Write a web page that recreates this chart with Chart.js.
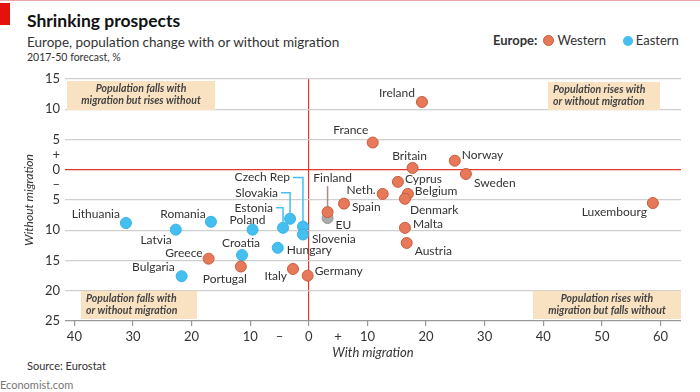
<!DOCTYPE html>
<html>
<head>
<meta charset="utf-8">
<script src="https://cdn.jsdelivr.net/npm/chart.js@4/dist/chart.umd.min.js"></script>
<style>
  body { margin: 0; width: 700px; height: 392px; position: relative; overflow: hidden; background: #fff; font-family: Lato, sans-serif; color: #222; }
  .abs { position: absolute; white-space: nowrap; }
  #topline { left: 0; top: 0; width: 700px; height: 1px; background: #e6aaaa; }
  #tag { left: 0; top: 3px; width: 10px; height: 22px; background: #e3120b; }
  #title { left: 27px; top: 10px; font-size: 17.5px; font-weight: bold; color: #111; }
  #sub { left: 27px; top: 34px; font-size: 13.5px; color: #333; }
  #sub2 { left: 27px; top: 51px; font-size: 10.5px; color: #333; }
  #legend { left: 493px; top: 32px; font-size: 13px; color: #333; }
  #legend b { margin-right: 6px; }
  .dot { display: inline-block; width: 10px; height: 10px; border-radius: 50%; vertical-align: -1px; margin-right: 3px; }
  #source { left: 27px; top: 359px; font-size: 11px; color: #333; }
  #brand { left: 0; top: 378px; font-size: 11px; color: #777; }
  canvas { position: absolute; left: 0; top: 0; }
</style>
</head>
<body>
<div class="abs" id="topline"></div>
<div class="abs" id="tag"></div>
<div class="abs" id="title">Shrinking prospects</div>
<div class="abs" id="sub">Europe, population change with or without migration</div>
<div class="abs" id="sub2">2017-50 forecast, %</div>
<div class="abs" id="legend"><b>Europe:</b><span class="dot" style="background:#e8785a;border:1px solid #c65d3e;width:9px;height:9px"></span>Western&nbsp;&nbsp;&nbsp;&nbsp;&nbsp;<span class="dot" style="background:#45bff0"></span>Eastern</div>
<div class="abs" id="source">Source: Eurostat</div>
<div class="abs" id="brand">Economist.com</div>
<canvas id="chart" width="700" height="392"></canvas>
<script>
// with migration (x) and without migration (y), % change 2017-50
const westernNames = ['Ireland', 'France', 'Britain', 'Norway', 'Sweden', 'Cyprus', 'Neth.', 'Belgium', 'Denmark', 'Spain', 'Finland', 'Malta', 'Austria', 'Italy', 'Germany', 'Luxembourg', 'Greece', 'Portugal'];
const westernWith = [19.3, 10.9, 17.7, 24.9, 26.8, 15.2, 12.6, 16.9, 16.4, 6.0, 3.2, 16.4, 16.7, -2.7, -0.2, 58.7, -17.1, -11.6];
const westernWithout = [11.2, 4.5, 0.3, 1.5, -0.7, -2.0, -4.0, -4.0, -4.8, -5.6, -7.0, -9.6, -12.1, -16.4, -17.5, -5.5, -14.7, -16.0];

const easternNames = ['Lithuania', 'Romania', 'Latvia', 'Poland', 'Estonia', 'Slovakia', 'Czech Rep', 'Slovenia', 'Hungary', 'Croatia', 'Bulgaria'];
const easternWith = [-31.2, -16.7, -22.7, -9.6, -4.4, -3.2, -1.0, -1.0, -5.3, -11.4, -21.7];
const easternWithout = [-8.8, -8.6, -9.9, -9.9, -9.6, -8.1, -9.4, -10.7, -12.9, -14.1, -17.6];

const euNames = ['EU'];
const euWith = [3.2];
const euWithout = [-8.0];

const xTicks = [-40, -30, -20, -10, -5, 0, 5, 10, 20, 30, 40, 50, 60];
const xTickLabels = ['40', '30', '20', '10', '–', '0', '+', '10', '20', '30', '40', '50', '60'];
const yTicks = [15, 10, 5, 2.5, 0, -2.5, -5, -10, -15, -20, -25];
const yTickLabels = ['15', '10', '5', '+', '0', '–', '5', '10', '15', '20', '25'];

// label placement: [dx, dy, align] from the dot centre
const labelPos = {
  'Ireland': [-7, -9, 'right'], 'France': [-22, -12, 'center'], 'Britain': [-3, -12, 'center'],
  'Norway': [7, -6, 'left'], 'Sweden': [8, 9, 'left'], 'Cyprus': [7, -3, 'left'],
  'Neth.': [-7, -4, 'right'], 'Belgium': [7, -3, 'left'], 'Denmark': [5, 11, 'left'],
  'Spain': [8, 3, 'left'], 'Finland': [5, -34, 'center'], 'Malta': [8, -4, 'left'],
  'Austria': [8, 8, 'left'], 'Italy': [-6, 7, 'right'], 'Germany': [7, -5, 'left'],
  'Luxembourg': [-6, 9, 'right'], 'Greece': [-6, -6, 'right'], 'Portugal': [-16, 13, 'center'],
  'Lithuania': [-6, -9, 'right'], 'Romania': [-28, -8, 'center'], 'Latvia': [-4, 10, 'right'],
  'Poland': [-5, -10, 'center'], 'Estonia': [-10, -20, 'right'], 'Slovakia': [-12, -26, 'right'],
  'Czech Rep': [-13, -49, 'right'], 'Slovenia': [9, 5, 'left'], 'Hungary': [9, 2, 'left'],
  'Croatia': [-1, -12, 'center'], 'Bulgaria': [-7, -9, 'right'], 'EU': [8, 7, 'left']
};
const elbowLeaders = ['Estonia', 'Slovakia', 'Czech Rep'];

const ORANGE = '#e8785a', ORANGE_EDGE = '#c65d3e', BLUE = '#45bff0', BLUE_EDGE = '#35b2e6', RED = '#e3382b';

const toPoints = (xs, ys) => xs.map((x, i) => ({ x: x, y: ys[i] }));

const quadrantBoxes = {
  id: 'quadrantBoxes',
  beforeDatasetsDraw(chart) {
    const { ctx, chartArea: a } = chart;
    const boxes = [
      { x: a.left + 2, y: a.top + 2, w: 148, h: 29, align: 'center', lines: ['Population falls with', 'migration but rises without'] },
      { x: 548, y: a.top + 3, w: 112, h: 28, align: 'left', lines: ['Population rises with', 'or without migration'] },
      { x: 81, y: a.bottom - 30, w: 116, h: 28, align: 'left', lines: ['Population falls with', 'or without migration'] },
      { x: 533, y: a.bottom - 30, w: a.right - 533, h: 28, align: 'center', lines: ['Population rises with', 'migration but falls without'] }
    ];
    ctx.save();
    ctx.font = 'italic bold 10.5px Lato';
    ctx.textBaseline = 'middle';
    boxes.forEach(b => {
      ctx.fillStyle = '#f9e2c2';
      ctx.fillRect(b.x, b.y, b.w, b.h);
      ctx.fillStyle = '#444';
      ctx.textAlign = b.align;
      const tx = b.align === 'center' ? b.x + b.w / 2 : b.x + 5;
      b.lines.forEach((t, i) => ctx.fillText(t, tx, b.y + 8 + i * 12));
    });
    ctx.restore();
  }
};

const pointLabels = {
  id: 'pointLabels',
  afterDatasetsDraw(chart) {
    const { ctx } = chart;
    ctx.save();
    ctx.font = '12px Lato';
    ctx.textBaseline = 'middle';
    chart.data.datasets.forEach((ds, di) => {
      const meta = chart.getDatasetMeta(di);
      ds.names.forEach((name, i) => {
        const pt = meta.data[i];
        const [dx, dy, align] = labelPos[name];
        const tx = pt.x + dx, ty = pt.y + dy;
        ctx.lineWidth = 1.5;
        if (elbowLeaders.includes(name)) {
          ctx.strokeStyle = BLUE;
          ctx.beginPath();
          ctx.moveTo(tx + 3, ty);
          ctx.lineTo(pt.x, ty);
          ctx.lineTo(pt.x, pt.y - 5);
          ctx.stroke();
        }
        if (name === 'Finland') {
          ctx.strokeStyle = '#a08f88';
          ctx.beginPath();
          ctx.moveTo(pt.x, ty + 8);
          ctx.lineTo(pt.x, pt.y - 5);
          ctx.stroke();
        }
        ctx.fillStyle = '#333';
        ctx.textAlign = align;
        ctx.fillText(name, tx, ty);
      });
    });
    ctx.restore();
  }
};

new Chart(document.getElementById('chart'), {
  type: 'scatter',
  data: {
    datasets: [
      { label: 'Western', names: westernNames, data: toPoints(westernWith, westernWithout), backgroundColor: ORANGE, borderColor: ORANGE_EDGE, borderWidth: 1, pointRadius: 5.5, clip: false },
      { label: 'Eastern', names: easternNames, data: toPoints(easternWith, easternWithout), backgroundColor: BLUE, borderColor: BLUE_EDGE, borderWidth: 1, pointRadius: 5.5, clip: false },
      { label: 'EU', names: euNames, data: toPoints(euWith, euWithout), backgroundColor: '#aaa', borderColor: '#999', borderWidth: 1, pointRadius: 5.5, clip: false }
    ]
  },
  options: {
    responsive: false,
    animation: false,
    layout: { padding: { left: 18, right: 19, top: 79, bottom: 21 } },
    plugins: { legend: { display: false }, tooltip: { enabled: false } },
    scales: {
      x: {
        type: 'linear',
        min: -41.6,
        max: 63.5,
        afterBuildTicks: (s) => { s.ticks = xTicks.map(v => ({ value: v })); },
        afterFit: (s) => { s.height = 50; },
        ticks: {
          autoSkip: false,
          maxRotation: 0,
          padding: 3,
          color: '#333',
          font: { family: 'Lato', size: 13 },
          callback: (v) => xTickLabels[xTicks.indexOf(v)]
        },
        grid: {
          color: (c) => (c.tick && c.tick.value === 0 ? RED : 'rgba(0,0,0,0)'),
          tickColor: (c) => (c.tick && Math.abs(c.tick.value) === 5 ? 'rgba(0,0,0,0)' : '#999'),
          tickLength: 5,
          lineWidth: 1.2
        },
        border: { display: false },
        title: {
          display: true,
          text: 'With migration',
          color: '#333',
          font: { family: 'Lato', size: 13, style: 'italic' },
          padding: { top: 0, bottom: 10 }
        }
      },
      y: {
        type: 'linear',
        min: -25,
        max: 15,
        afterBuildTicks: (s) => { s.ticks = yTicks.map(v => ({ value: v })); },
        afterFit: (s) => { s.width = 47; },
        ticks: {
          autoSkip: false,
          padding: 5,
          color: '#333',
          font: { family: 'Lato', size: 13 },
          callback: (v) => yTickLabels[yTicks.indexOf(v)]
        },
        grid: {
          color: (c) => {
            const v = c.tick && c.tick.value;
            if (v === 0) return RED;
            if (v === -25) return '#999';
            return v % 5 === 0 ? '#cfcfcf' : 'rgba(0,0,0,0)';
          },
          lineWidth: 1.2,
          drawTicks: false
        },
        border: { display: false },
        title: {
          display: true,
          text: 'Without migration',
          color: '#333',
          font: { family: 'Lato', size: 12, style: 'italic' },
          padding: { top: 4, bottom: 0 }
        }
      }
    }
  },
  plugins: [quadrantBoxes, pointLabels]
});
</script>
</body>
</html>
